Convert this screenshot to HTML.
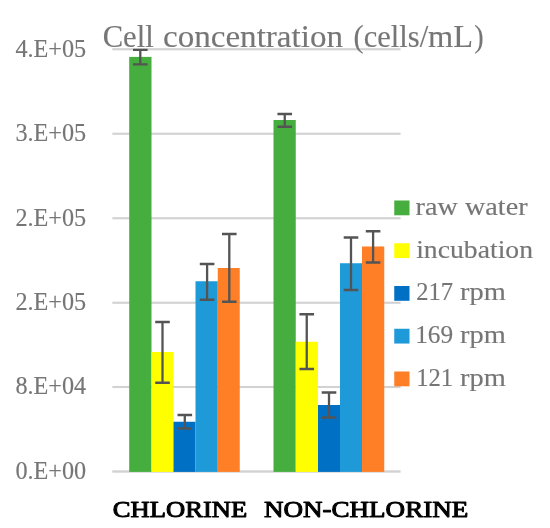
<!DOCTYPE html>
<html><head><meta charset="utf-8"><title>Cell concentration</title>
<style>
html,body{margin:0;padding:0;background:#fff;}
svg{display:block}
text{font-family:"Liberation Serif",serif;}
</style></head><body>
<svg width="550" height="528" viewBox="0 0 550 528">
<rect width="550" height="528" fill="#fff"/>
<rect x="112.3" y="48.20" width="288.3" height="2.1" fill="#d2d2d2"/>
<rect x="112.3" y="132.70" width="288.3" height="2.1" fill="#d2d2d2"/>
<rect x="112.3" y="217.20" width="288.3" height="2.1" fill="#d2d2d2"/>
<rect x="112.3" y="301.70" width="288.3" height="2.1" fill="#d2d2d2"/>
<rect x="112.3" y="385.95" width="288.3" height="2.1" fill="#d2d2d2"/>
<rect x="112.3" y="470.3" width="288.3" height="2.4" fill="#d2d2d2"/>
<rect x="129.2" y="56.9" width="22.30" height="415.00" fill="#45ae3f"/>
<rect x="151.5" y="352" width="22.00" height="119.90" fill="#ffff00"/>
<rect x="173.5" y="421.75" width="22.00" height="50.15" fill="#0070c4"/>
<rect x="195.5" y="281.25" width="22.25" height="190.65" fill="#1e9ad8"/>
<rect x="217.75" y="268" width="22.00" height="203.90" fill="#ff7f27"/>
<rect x="273.5" y="120" width="22.25" height="351.90" fill="#45ae3f"/>
<rect x="295.75" y="341.75" width="22.25" height="130.15" fill="#ffff00"/>
<rect x="318" y="405" width="22.00" height="66.90" fill="#0070c4"/>
<rect x="340" y="263.25" width="22.00" height="208.65" fill="#1e9ad8"/>
<rect x="362" y="246.5" width="22.25" height="225.40" fill="#ff7f27"/>
<path d="M133.00 49.8H147.60M133.00 64.4H147.60M140.30 49.8V64.4" stroke="#545454" stroke-width="2.3" fill="none"/>
<path d="M155.20 322H169.80M155.20 382.75H169.80M162.50 322V382.75" stroke="#545454" stroke-width="2.3" fill="none"/>
<path d="M177.50 415H192.10M177.50 428.5H192.10M184.80 415V428.5" stroke="#545454" stroke-width="2.3" fill="none"/>
<path d="M199.80 264H214.40M199.80 299.75H214.40M207.10 264V299.75" stroke="#545454" stroke-width="2.3" fill="none"/>
<path d="M222.00 234H236.60M222.00 301.75H236.60M229.30 234V301.75" stroke="#545454" stroke-width="2.3" fill="none"/>
<path d="M277.45 114H292.05M277.45 126.75H292.05M284.75 114V126.75" stroke="#545454" stroke-width="2.3" fill="none"/>
<path d="M299.45 314.25H314.05M299.45 369H314.05M306.75 314.25V369" stroke="#545454" stroke-width="2.3" fill="none"/>
<path d="M321.70 392.5H336.30M321.70 417.5H336.30M329.00 392.5V417.5" stroke="#545454" stroke-width="2.3" fill="none"/>
<path d="M343.70 237.5H358.30M343.70 290H358.30M351.00 237.5V290" stroke="#545454" stroke-width="2.3" fill="none"/>
<path d="M365.80 231.25H380.40M365.80 262.5H380.40M373.10 231.25V262.5" stroke="#545454" stroke-width="2.3" fill="none"/>
<text x="15.4" y="56.65" font-size="24.5" fill="#767676" textLength="70.8" lengthAdjust="spacingAndGlyphs" stroke="#767676" stroke-width="0.15">4.E+05</text>
<text x="15.4" y="141.15" font-size="24.5" fill="#767676" textLength="70.8" lengthAdjust="spacingAndGlyphs" stroke="#767676" stroke-width="0.15">3.E+05</text>
<text x="15.4" y="225.65" font-size="24.5" fill="#767676" textLength="70.8" lengthAdjust="spacingAndGlyphs" stroke="#767676" stroke-width="0.15">2.E+05</text>
<text x="15.4" y="310.15" font-size="24.5" fill="#767676" textLength="70.8" lengthAdjust="spacingAndGlyphs" stroke="#767676" stroke-width="0.15">2.E+05</text>
<text x="15.4" y="394.40" font-size="24.5" fill="#767676" textLength="70.8" lengthAdjust="spacingAndGlyphs" stroke="#767676" stroke-width="0.15">8.E+04</text>
<text x="15.4" y="478.90" font-size="24.5" fill="#767676" textLength="70.8" lengthAdjust="spacingAndGlyphs" stroke="#767676" stroke-width="0.15">0.E+00</text>
<text y="47.3" font-size="31" fill="#767676" stroke="#767676" stroke-width="0.15"><tspan x="102.7" textLength="51" lengthAdjust="spacingAndGlyphs">Cell</tspan> <tspan x="163" textLength="180" lengthAdjust="spacingAndGlyphs">concentration</tspan> <tspan x="353.6" textLength="74.6" lengthAdjust="spacingAndGlyphs">(cells/</tspan><tspan x="428" textLength="45" lengthAdjust="spacingAndGlyphs">mL</tspan><tspan x="474.3" textLength="9.4" lengthAdjust="spacingAndGlyphs">)</tspan></text>
<rect x="394.25" y="200.50" width="15.25" height="14.8" fill="#45ae3f"/>
<text y="214.70" font-size="24.5" fill="#767676" stroke="#767676" stroke-width="0.15"><tspan x="415.6" textLength="112" lengthAdjust="spacingAndGlyphs">raw water</tspan></text>
<rect x="394.25" y="243.25" width="15.25" height="14.8" fill="#ffff00"/>
<text y="257.50" font-size="24.5" fill="#767676" stroke="#767676" stroke-width="0.15"><tspan x="416.2" textLength="116.8" lengthAdjust="spacingAndGlyphs">incubation</tspan></text>
<rect x="394.25" y="286.00" width="15.25" height="14.8" fill="#0070c4"/>
<text y="300.30" font-size="24.5" fill="#767676" stroke="#767676" stroke-width="0.15"><tspan x="416.3" textLength="36.8" lengthAdjust="spacingAndGlyphs">217</tspan> <tspan x="460" textLength="45.8" lengthAdjust="spacingAndGlyphs">rpm</tspan></text>
<rect x="394.25" y="328.75" width="15.25" height="14.8" fill="#1e9ad8"/>
<text y="343.10" font-size="24.5" fill="#767676" stroke="#767676" stroke-width="0.15"><tspan x="415.2" textLength="37.9" lengthAdjust="spacingAndGlyphs">169</tspan> <tspan x="460" textLength="45.8" lengthAdjust="spacingAndGlyphs">rpm</tspan></text>
<rect x="394.25" y="371.50" width="15.25" height="14.8" fill="#ff7f27"/>
<text y="385.90" font-size="24.5" fill="#767676" stroke="#767676" stroke-width="0.15"><tspan x="416.2" textLength="36.9" lengthAdjust="spacingAndGlyphs">121</tspan> <tspan x="460" textLength="45.8" lengthAdjust="spacingAndGlyphs">rpm</tspan></text>
<text x="112.8" y="517.00" font-size="22.5" fill="#000" textLength="134.4" lengthAdjust="spacingAndGlyphs" stroke="#000" stroke-width="0.95" stroke-linejoin="round">CHLORINE</text>
<text x="263.9" y="517.00" font-size="22.5" fill="#000" textLength="204.4" lengthAdjust="spacingAndGlyphs" stroke="#000" stroke-width="0.95" stroke-linejoin="round">NON-CHLORINE</text>
</svg></body></html>
